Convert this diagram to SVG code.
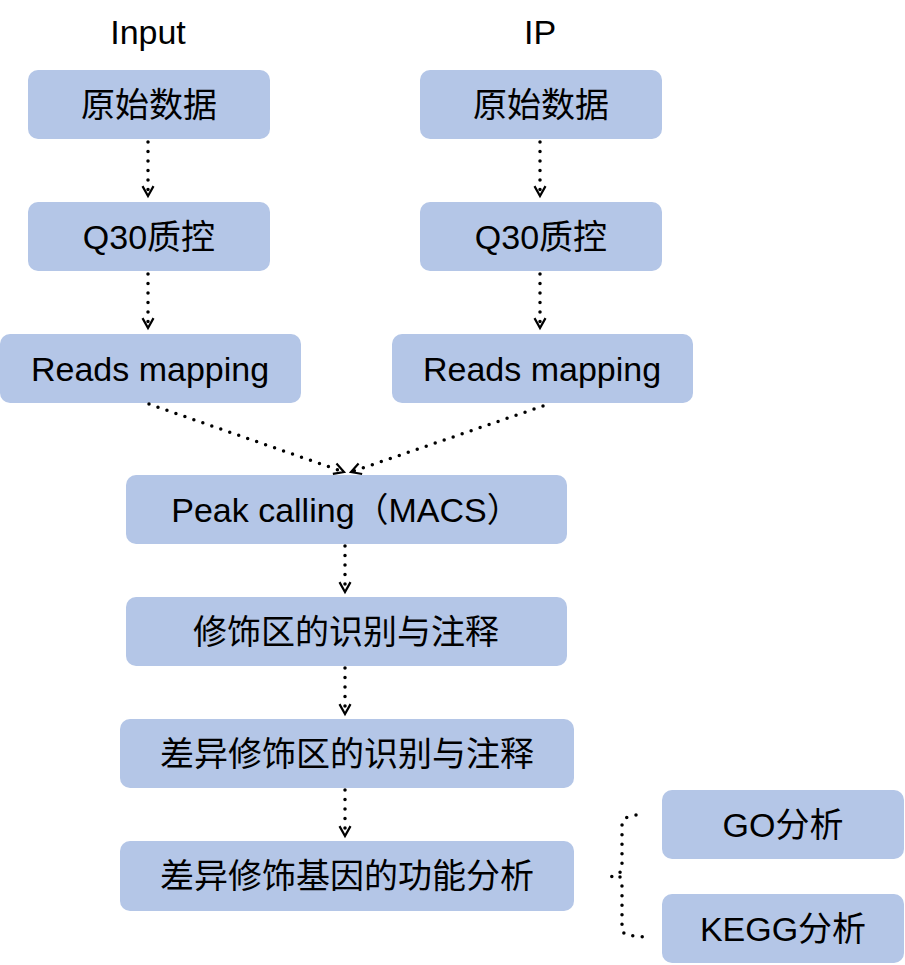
<svg xmlns="http://www.w3.org/2000/svg" width="905" height="965" viewBox="0 0 905 965">
<style>
.b{fill:#b4c6e7}
text{font-family:"Liberation Sans","Noto Sans CJK SC",sans-serif;font-size:34px;fill:#000;text-anchor:middle;dominant-baseline:central}
.c{fill:none;stroke:#000;stroke-width:3.5;stroke-dasharray:0 9.5;stroke-linecap:round}
</style>
<defs><marker id="a" viewBox="0 0 10 10" refX="9" refY="5" markerWidth="5" markerHeight="5" orient="auto" markerUnits="userSpaceOnUse" style="overflow:visible"><path d="M0,0 L9,5 L0,10" fill="none" stroke="#000" stroke-width="2" transform="scale(2.2)" transform-origin="9 5"/></marker></defs>
<text x="148" y="32">Input</text>
<text x="540" y="32">IP</text>
<g id="n1"><rect class="b" x="28" y="70" width="242" height="69" rx="10"/><text x="149" y="105">原始数据</text></g>
<g id="n2"><rect class="b" x="420" y="70" width="242" height="69" rx="10"/><text x="541" y="105">原始数据</text></g>
<g id="n3"><rect class="b" x="28" y="202" width="242" height="69" rx="10"/><text x="149" y="237">Q30质控</text></g>
<g id="n4"><rect class="b" x="420" y="202" width="242" height="69" rx="10"/><text x="541" y="237">Q30质控</text></g>
<g id="n5"><rect class="b" x="0" y="334" width="301" height="69" rx="10"/><text x="150" y="369">Reads mapping</text></g>
<g id="n6"><rect class="b" x="392" y="334" width="301" height="69" rx="10"/><text x="542" y="369">Reads mapping</text></g>
<g id="n7"><rect class="b" x="126" y="475" width="441" height="69" rx="10"/><text x="346" y="510">Peak calling（MACS）</text></g>
<g id="n8"><rect class="b" x="126" y="597" width="441" height="69" rx="10"/><text x="346" y="632">修饰区的识别与注释</text></g>
<g id="n9"><rect class="b" x="120" y="719" width="454" height="69" rx="10"/><text x="347" y="754">差异修饰区的识别与注释</text></g>
<g id="n10"><rect class="b" x="120" y="841" width="454" height="70" rx="10"/><text x="347" y="876">差异修饰基因的功能分析</text></g>
<g id="n11"><rect class="b" x="662" y="790" width="242" height="69" rx="10"/><text x="783" y="825">GO分析</text></g>
<g id="n12"><rect class="b" x="662" y="894" width="242" height="69" rx="10"/><text x="783" y="929">KEGG分析</text></g>
<g id="connectors">
<path class="c" d="M148,142 V196" marker-end="url(#a)"/>
<path class="c" d="M540,142 V196" marker-end="url(#a)"/>
<path class="c" d="M148,274 V328" marker-end="url(#a)"/>
<path class="c" d="M540,274 V328" marker-end="url(#a)"/>
<path class="c" d="M149,404 L344,472" marker-end="url(#a)"/>
<path class="c" d="M543,406 L351,472" marker-end="url(#a)"/>
<path class="c" d="M345,546 V592" marker-end="url(#a)"/>
<path class="c" d="M345,668 V714" marker-end="url(#a)"/>
<path class="c" d="M345,790 V836" marker-end="url(#a)"/>
<path class="c" d="M636,815 Q622,816 622,826 V868 Q620,877 606,877 M620,877 Q622,880 622,888 V930 Q622,936 645,937"/>
</g>
</svg>
